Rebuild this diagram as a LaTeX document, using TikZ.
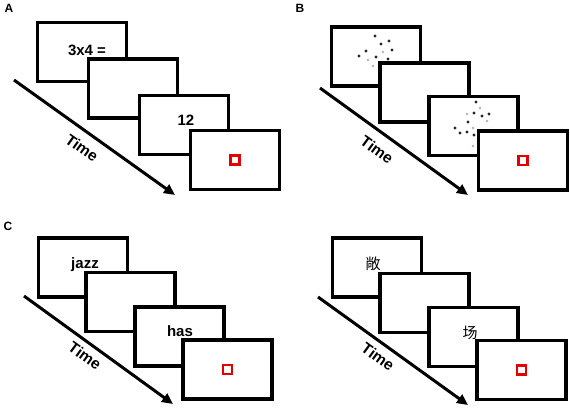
\documentclass[tikz,border=0pt]{standalone}
\usepackage{fontspec}
\setmainfont{Liberation Sans}
\newfontfamily\cjkfont{Noto Sans CJK SC}
\usetikzlibrary{arrows.meta}
\begin{document}
\begin{tikzpicture}[x=1pt,y=-1pt,
  frame/.style={draw, line width=3.2pt, fill=white, minimum width=89pt, minimum height=59pt, inner sep=0pt},
  cue/.style={draw=red!90!black, line width=2.2pt, minimum size=9pt, inner sep=0pt},
  stim/.style={font=\bfseries\fontsize{15}{15}\selectfont, anchor=base, inner sep=0pt},
  hanzi/.style={font=\cjkfont\fontsize{15}{15}\selectfont, inner sep=0pt},
  timearrow/.style={line width=3pt, -{Triangle[length=11pt,width=10pt]}},
  timelbl/.style={font=\bfseries\fontsize{15.5}{15.5}\selectfont, inner sep=0pt},
  panel/.style={font=\bfseries\fontsize{12}{12}\selectfont, inner sep=0pt},
  dk/.style={fill=black!85},
  lt/.style={fill=black!30}]
\useasboundingbox (0,0) rectangle (570,407);

% panel labels
\node[panel] (lA) at (9,8) {A};
\node[panel] (lB) at (300,8) {B};
\node[panel] (lC) at (8,226) {C};

% ---------------- Panel A ----------------
\coordinate (aS) at (14,80);
\coordinate (aE) at (175,195);
\draw[timearrow] (aS) -- (aE);
\node[timelbl, rotate=-35.5] (aT) at (82,148) {Time};
\node[frame] (a1) at (82,52) {};
\node[stim] (a1t) at (87,55) {3x4 =};
\node[frame] (a2) at (133,88.5) {};
\node[frame] (a3) at (184,125) {};
\node[stim] (a3t) at (186,125) {12};
\node[frame] (a4) at (235,160) {};
\node[cue] (a4c) at (a4) {};

% ---------------- Panel B ----------------
\coordinate (bS) at (320,88);
\coordinate (bE) at (468,195);
\draw[timearrow] (bS) -- (bE);
\node[timelbl, rotate=-36] (bT) at (377,150) {Time};
\node[frame] (b1) at (376,56.5) {};
\foreach \x/\y in {375/36,381/44,389/41,366/51,392/50,359/56,376/57,388/59}
  \fill[dk] (\x,\y) circle (1.6pt);
\foreach \x/\y in {383/52,368/60,373/66}
  \fill[lt] (\x,\y) circle (1.3pt);
\node[frame] (b2) at (424.5,92.5) {};
\node[frame] (b3) at (473.5,126) {};
\foreach \x/\y in {476/102,474/113,482/116,489/114,468/122,455/128,460/133,467/132,474/135}
  \fill[dk] (\x,\y) circle (1.6pt);
\foreach \x/\y in {480/108,467/114,487/121,473/128,473/146}
  \fill[lt] (\x,\y) circle (1.3pt);
\node[frame] (b4) at (523,160.5) {};
\node[cue] (b4c) at (b4) {};

% ---------------- Panel C ----------------
\coordinate (cS) at (24,296);
\coordinate (cE) at (173,404);
\draw[timearrow] (cS) -- (cE);
\node[timelbl, rotate=-36] (cT) at (85,356) {Time};
\node[frame] (c1) at (83,267.5) {};
\node[stim] (c1t) at (85,268) {jazz};
\node[frame] (c2) at (130.5,302) {};
\node[frame] (c3) at (179.5,336.5) {};
\node[stim] (c3t) at (180,336) {has};
\node[frame] (c4) at (227.5,369.5) {};
\node[cue] (c4c) at (c4) {};

% ---------------- Panel D ----------------
\coordinate (dS) at (318,297);
\coordinate (dE) at (468,405);
\draw[timearrow] (dS) -- (dE);
\node[timelbl, rotate=-36] (dT) at (378,357) {Time};
\node[frame] (d1) at (377,267.5) {};
\node[hanzi] (d1t) at (373,264) {敞};
\node[frame] (d2) at (424.5,303) {};
\node[frame] (d3) at (473.5,337) {};
\node[hanzi] (d3t) at (470,333) {场};
\node[frame] (d4) at (521.5,370) {};
\node[cue] (d4c) at (d4) {};
\end{tikzpicture}
\end{document}
